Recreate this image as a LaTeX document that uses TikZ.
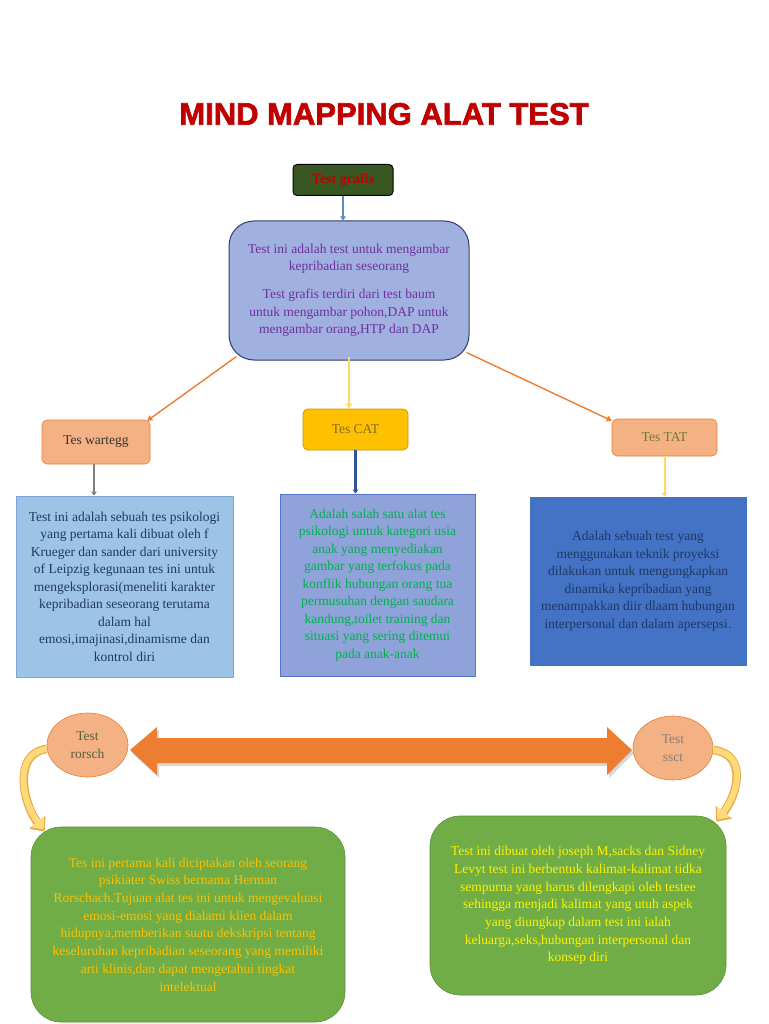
\documentclass[tikz,border=0pt]{standalone}
\usepackage{fontspec}
\setmainfont{Liberation Serif}
\newfontfamily\titlefont[FakeBold=2.2]{Liberation Sans Bold}
\usetikzlibrary{arrows.meta,shapes.geometric,shadows,calc}
\definecolor{titlered}{HTML}{C00000}
\definecolor{darkgreen}{HTML}{385723}
\definecolor{mainfill}{HTML}{A0B1DF}
\definecolor{mainborder}{HTML}{2F3D66}
\definecolor{mainpurple}{HTML}{7030A0}
\definecolor{salmon}{HTML}{F4B183}
\definecolor{offorange}{HTML}{ED7D31}
\definecolor{lightblue}{HTML}{9DC3E6}
\definecolor{lightblueborder}{HTML}{7BA7D6}
\definecolor{navytext}{HTML}{1F3864}
\definecolor{gold}{HTML}{FFC000}
\definecolor{goldborder}{HTML}{C89600}
\definecolor{periwinkle}{HTML}{8FA2D9}
\definecolor{periborder}{HTML}{5474C8}
\definecolor{greentext}{HTML}{00B050}
\definecolor{officeblue}{HTML}{4472C4}
\definecolor{officegreen}{HTML}{70AD47}
\definecolor{greenborder}{HTML}{5B8F3A}
\definecolor{arrowblue}{HTML}{5B8DC0}
\definecolor{arrownavy}{HTML}{2F5597}
\definecolor{arrowyellow}{HTML}{FFD966}
\definecolor{ribbon}{HTML}{FFD97A}
\definecolor{ribbonedge}{HTML}{E6AE48}
\tikzset{
  bodytext/.style={font=\fontsize{13.5}{17.5}\selectfont, align=center},
  smallbox/.style={draw, rounded corners=5pt, inner sep=0pt, font=\fontsize{13.5}{16}\selectfont},
  descbox/.style={draw, inner sep=0pt, bodytext},
  ovalbox/.style={ellipse, draw=offorange, fill=salmon, line width=0.6pt, inner sep=0pt, minimum width=81pt, minimum height=64pt, align=center, font=\fontsize{13.5}{17.5}\selectfont},
  greenbox/.style={draw=greenborder, fill=officegreen, rounded corners=30pt, inner sep=0pt, line width=0.6pt, font=\fontsize{13.5}{17.7}\selectfont, align=center},
  conn/.style={line width=1.6pt, -{Triangle[width=5.5pt,length=4pt]}},
}
\begin{document}
\begin{tikzpicture}[x=1pt,y=-1pt]
\useasboundingbox[fill=white] (0,0) rectangle (768,1024);

% title
\node (title) at (384,114) {\titlefont\fontsize{31}{31}\selectfont\color{titlered}MIND MAPPING ALAT TEST};

% top box
\node[smallbox, draw=black, line width=1pt, fill=darkgreen, minimum width=100pt, minimum height=31pt, rounded corners=4pt, text=titlered, font=\fontsize{14}{16}\selectfont\bfseries] (grafis) at (343,180) {Test grafis};

% main box
\node[draw=mainborder, fill=mainfill, line width=1pt, rounded corners=25pt, minimum width=240pt, minimum height=139pt, inner sep=0pt, text=mainpurple, bodytext] (main) at (349,290.5)
{Test ini adalah test untuk mengambar\\ kepribadian seseorang\\[10.5pt]
Test grafis terdiri dari test baum\\ untuk mengambar pohon,DAP untuk\\ mengambar orang,HTP dan DAP};

% second level
\node[smallbox, draw=offorange, fill=salmon, line width=0.6pt, minimum width=108pt, minimum height=44pt, text=black!80] (wart) at (96,442) {Tes wartegg};
\node[smallbox, draw=goldborder, fill=gold, line width=0.8pt, minimum width=105pt, minimum height=41pt, text={rgb,255:red,127;green,106;blue,42}] (cat) at (355.5,429.5) {Tes CAT};
\node[smallbox, draw=offorange, fill=salmon, line width=0.6pt, minimum width=105pt, minimum height=37pt, text={rgb,255:red,107;green,122;blue,58}] (tat) at (664.5,437.5) {Tes TAT};

% descriptions
\node[descbox, draw=lightblueborder, fill=lightblue, line width=0.8pt, minimum width=217pt, minimum height=181pt, text=navytext] (wartd) at (124.5,586.5)
{Test ini adalah sebuah tes psikologi\\ yang pertama kali dibuat oleh f\\ Krueger dan sander dari university\\ of Leipzig kegunaan tes ini untuk\\ mengeksplorasi(meneliti karakter\\ kepribadian seseorang terutama\\ dalam hal\\ emosi,imajinasi,dinamisme dan\\ kontrol diri};
\node[descbox, draw=periborder, fill=periwinkle, line width=0.8pt, minimum width=195pt, minimum height=182pt, text=greentext] (catd) at (377.5,585)
{Adalah salah satu alat tes\\ psikologi untuk kategori usia\\ anak yang menyediakan\\ gambar yang terfokus pada\\ konflik hubungan orang tua\\ permusuhan dengan saudara\\ kandung,toilet training dan\\ situasi yang sering ditemui\\ pada anak-anak};
\node[descbox, draw=officeblue, fill=officeblue, minimum width=216pt, minimum height=168pt, text=navytext] (tatd) at (638,581)
{Adalah sebuah test yang\\ menggunakan teknik proyeksi\\ dilakukan untuk mengungkapkan\\ dinamika kepribadian yang\\ menampakkan diir dlaam hubungan\\ interpersonal dan dalam apersepsi.};

% connectors top part
\draw[conn, draw=arrowblue] (grafis.south) -- (grafis.south |- main.north);
\draw[line width=1.4pt, draw=offorange, -{Triangle[width=6pt,length=5pt]}] ([shift={(8,-4)}]main.south west) -- ([shift={(-3,1)}]wart.north east);
\draw[line width=1.4pt, draw=arrowyellow, -{Triangle[width=6pt,length=5pt]}] ([yshift=4]main.south) -- (main.south |- cat.north);
\draw[line width=1.4pt, draw=offorange, -{Triangle[width=6pt,length=5pt]}] ([shift={(-3,-8)}]main.south east) -- ([shift={(0,2)}]tat.north west);
\draw[conn, draw=black!50, line width=2.4pt] ([xshift=-2]wart.south) -- ([xshift=-2]wart.south |- wartd.north);
\draw[conn, draw=arrownavy, line width=2.4pt] (cat.south) -- (cat.south |- catd.north);
\draw[conn, draw=arrowyellow, line width=2pt] (tat.south) -- (tat.south |- tatd.north);

% ovals
\node[ovalbox, text={rgb,255:red,86;green,96;blue,63}] (ror) at (87.5,745) {Test\\ rorsch};
\node[ovalbox, minimum width=80pt, text=black!50] (ssct) at (673,748) {Test\\ ssct};

% double arrow
\fill[offorange, drop shadow={opacity=0.3, shadow xshift=2pt, shadow yshift=-3pt}]
  (130,750) -- (157,727) -- (157,738) -- (607,738) -- (607,727) -- (632,750)
  -- (607,775) -- (607,763) -- (157,763) -- (157,775) -- cycle;

% green boxes
\node[greenbox, minimum width=314pt, minimum height=195pt, text=gold] (greenL) at (188,924.5)
{Tes ini pertama kali diciptakan oleh seorang\\ psikiater Swiss bernama Herman\\ Rorschach.Tujuan alat tes ini untuk mengevaluasi\\ emosi-emosi yang dialami klien dalam\\ hidupnya,memberikan suatu dekskripsi tentang\\ keseluruhan kepribadian seseorang yang memiliki\\ arti klinis,dan dapat mengetahui tingkat\\ intelektual};
\node[greenbox, minimum width=296pt, minimum height=179pt, text=yellow] (greenR) at (578,905.5)
{Test ini dibuat oleh joseph M,sacks dan Sidney\\ Levyt test ini berbentuk kalimat-kalimat tidka\\ sempurna yang harus dilengkapi oleh testee\\ sehingga menjadi kalimat yang utuh aspek\\ yang diungkap dalam test ini ialah\\ keluarga,seks,hubungan interpersonal dan\\ konsep diri};

% curved ribbon arrows
\draw[line width=8.5pt, draw=ribbonedge, -{Triangle[width=20pt,length=12pt]}]
  ([yshift=-4]ror.west) .. controls +(-34,4) and +(-22,-28) .. ([shift={(14,5)}]greenL.north west);
\draw[line width=6pt, draw=ribbon, -{Triangle[width=16pt,length=10pt]}]
  ([yshift=-4]ror.west) .. controls +(-34,4) and +(-22,-28) .. ([shift={(13,3)}]greenL.north west);
\draw[line width=8.5pt, draw=ribbonedge, -{Triangle[width=20pt,length=12pt]}]
  ([yshift=-2]ssct.east) .. controls +(34,4) and +(22,-28) .. ([shift={(-10,6)}]greenR.north east);
\draw[line width=6pt, draw=ribbon, -{Triangle[width=16pt,length=10pt]}]
  ([yshift=-2]ssct.east) .. controls +(34,4) and +(22,-28) .. ([shift={(-9,4)}]greenR.north east);
\end{tikzpicture}
\end{document}
